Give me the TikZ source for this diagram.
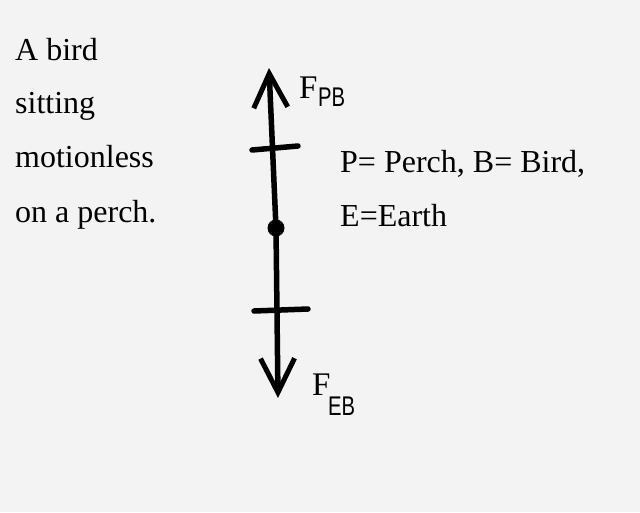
\documentclass[tikz,border=0pt]{standalone}
\usepackage{fontspec}
\setmainfont{Liberation Serif}
\setsansfont{Liberation Sans}
\usetikzlibrary{arrows.meta}
\begin{document}
\begin{tikzpicture}[x=1pt,y=-1pt,
  txt/.style={anchor=base west,inner sep=0pt,font=\fontsize{32}{36}\selectfont},
  ftxt/.style={anchor=base west,inner sep=0pt,font=\fontsize{33}{36}\selectfont},
  subtxt/.style={anchor=base west,inner sep=0pt,font=\sffamily\fontsize{27}{30}\selectfont,xscale=0.75},
  force/.style={line width=5.5pt,-{Straight Barb[length=34pt,width=34pt,line width=5pt]}},
  tickmark/.style={line width=5.5pt,line cap=round}]
\fill[fill={rgb,255:red,243;green,243;blue,243}] (0,0) rectangle (640,512);
\useasboundingbox (0,0) rectangle (640,512);
% left description
\node[txt] (l1) at (15,60) {A bird};
\node[txt] (l2) at (15,113) {sitting};
\node[txt] (l3) at (15,167) {motionless};
\node[txt] (l4) at (15,222) {on a perch.};
% legend
\node[txt] (k1) at (340,172) {P= Perch, B= Bird,};
\node[txt] (k2) at (340,226) {E=Earth};
% diagram
\node[circle,fill=black,inner sep=0pt,minimum size=17pt] (dot) at (276,228) {};
\coordinate (top) at (269,68);
\coordinate (bot) at (278,398);
\draw[force] (dot.center) -- (top);
\draw[force] (dot.center) -- (bot);
\coordinate (t1a) at (252,150);
\coordinate (t1b) at (298,146);
\coordinate (t2a) at (254,311);
\coordinate (t2b) at (308,309);
\draw[tickmark] (t1a) -- (t1b);
\draw[tickmark] (t2a) -- (t2b);
% labels
\node[ftxt] (fpb) at (299,98) {F};
\node[subtxt] (pb) at (318,106) {PB};
\node[ftxt] (feb) at (312,395) {F};
\node[subtxt] (eb) at (328,415) {EB};
\end{tikzpicture}
\end{document}
